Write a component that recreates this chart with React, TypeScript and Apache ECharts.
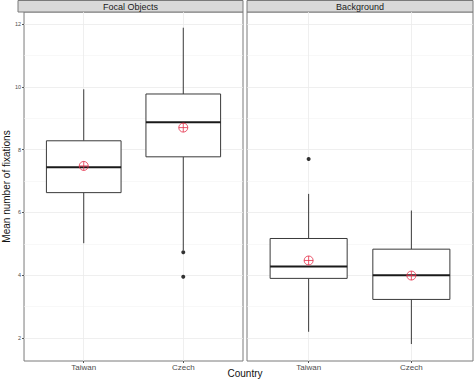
import React, { useEffect, useRef } from "react";
import * as echarts from "echarts";

const categories = ["Taiwan", "Czech"];
const panels = ["Focal Objects", "Background"];
// [min, Q1, median, Q3, max]
const focalStats = [
  [5.02, 6.63, 7.44, 8.28, 9.92],
  [4.8, 7.77, 8.87, 9.77, 11.88],
];
const backgroundStats = [
  [2.2, 3.9, 4.28, 5.17, 6.59],
  [1.81, 3.23, 4.0, 4.83, 6.06],
];
const focalMeans = [7.48, 8.7];
const backgroundMeans = [4.47, 3.99];
const focalOutlierCategory = ["Czech", "Czech"];
const focalOutlierValues = [4.73, 3.95];
const backgroundOutlierCategory = ["Taiwan"];
const backgroundOutlierValues = [7.7];
const yTicks = [2, 4, 6, 8, 10, 12];
const yMinorTicks = [3, 5, 7, 9, 11];
const xTicks = [1, 2];

const FONT = "Liberation Sans, Arial, sans-serif";
const Y_MIN = 1.27;
const Y_MAX = 12.38;

const MEAN_SYMBOL =
  "path://M10,0A10,10,0,1,1,10,20A10,10,0,1,1,10,0ZM0,10L20,10M10,0L10,20";

function renderBox(params: any, api: any) {
  const x = api.value(0);
  const mn = api.value(1);
  const q1 = api.value(2);
  const md = api.value(3);
  const q3 = api.value(4);
  const mx = api.value(5);
  const halfW = api.size([1, 0])[0] * 0.375;
  const pMin = api.coord([x, mn]);
  const pQ1 = api.coord([x, q1]);
  const pMd = api.coord([x, md]);
  const pQ3 = api.coord([x, q3]);
  const pMax = api.coord([x, mx]);
  const stroke = { stroke: "#3a3a3a", lineWidth: 1, fill: "none" };
  return {
    type: "group",
    children: [
      { type: "line", shape: { x1: pQ3[0], y1: pQ3[1], x2: pMax[0], y2: pMax[1] }, style: stroke },
      { type: "line", shape: { x1: pQ1[0], y1: pQ1[1], x2: pMin[0], y2: pMin[1] }, style: stroke },
      {
        type: "rect",
        shape: { x: pQ3[0] - halfW, y: pQ3[1], width: halfW * 2, height: pQ1[1] - pQ3[1] },
        style: { stroke: "#3a3a3a", lineWidth: 1, fill: "#ffffff" },
      },
      {
        type: "line",
        shape: { x1: pMd[0] - halfW, y1: pMd[1], x2: pMd[0] + halfW, y2: pMd[1] },
        style: { stroke: "#1a1a1a", lineWidth: 2, fill: "none" },
      },
    ],
  };
}

function boxData(stats: number[][]) {
  return stats.map((s, i) => [i + 1, ...s]);
}
function meanData(means: number[]) {
  return means.map((m, i) => [i + 1, m]);
}
function outlierData(cats: string[], vals: number[]) {
  return cats.map((c, i) => [categories.indexOf(c) + 1, vals[i]]);
}

export default function App() {
  const ref = useRef<HTMLDivElement>(null);
  useEffect(() => {
    if (!ref.current) return;
    const chart = echarts.init(ref.current, null, { renderer: "svg" });
    const grids = [
      { left: 18, top: 12, width: 225, height: 349 },
      { left: 247, top: 12, width: 226, height: 349 },
    ];
    const xAxes = grids.map((_, gi) => ({
      type: "value",
      gridIndex: gi,
      min: 0.4,
      max: 2.6,
      axisLine: { show: false },
      axisTick: { show: true, length: 2, customValues: xTicks, lineStyle: { color: "#555" } },
      axisLabel: {
        show: true,
        customValues: xTicks,
        formatter: (v: number) => categories[Math.round(v) - 1] || "",
        fontSize: 8,
        color: "#4d4d4d",
        fontFamily: FONT,
        margin: 2,
      },
      splitLine: { show: true, lineStyle: { color: "#ebebeb", width: 0.8 } },
    }));
    const yAxes: any[] = [];
    grids.forEach((_, gi) => {
      yAxes.push({
        type: "value",
        gridIndex: gi,
        min: Y_MIN,
        max: Y_MAX,
        position: "left",
        axisLine: { show: false },
        axisTick: { show: gi === 0, length: 2, customValues: yTicks, lineStyle: { color: "#555" } },
        axisLabel: {
          show: gi === 0,
          customValues: yTicks,
          fontSize: 5.5,
          color: "#4d4d4d",
          fontFamily: FONT,
          margin: 3,
        },
        splitLine: { show: true, lineStyle: { color: "#ebebeb", width: 0.8 } },
        name: gi === 0 ? "Mean number of fixations" : "",
        nameLocation: "middle",
        nameGap: 8,
        nameTextStyle: { fontSize: 10, color: "#111", fontFamily: FONT },
      });
      yAxes.push({
        type: "value",
        gridIndex: gi,
        min: Y_MIN,
        max: Y_MAX,
        position: "left",
        axisLine: { show: false },
        axisTick: { show: false, customValues: yMinorTicks },
        axisLabel: { show: false, customValues: yMinorTicks },
        splitLine: { show: true, lineStyle: { color: "#f4f4f4", width: 0.6 } },
      });
    });
    const statsList = [focalStats, backgroundStats];
    const meansList = [focalMeans, backgroundMeans];
    const outList = [
      outlierData(focalOutlierCategory, focalOutlierValues),
      outlierData(backgroundOutlierCategory, backgroundOutlierValues),
    ];
    const series: any[] = [];
    grids.forEach((_, gi) => {
      series.push({
        type: "custom",
        name: panels[gi],
        xAxisIndex: gi,
        yAxisIndex: gi * 2,
        renderItem: renderBox,
        encode: { x: 0, y: [1, 2, 3, 4, 5] },
        data: boxData(statsList[gi]),
        z: 2,
      });
      series.push({
        type: "scatter",
        name: panels[gi] + " outliers",
        xAxisIndex: gi,
        yAxisIndex: gi * 2,
        symbol: "circle",
        symbolSize: 4,
        itemStyle: { color: "#000" },
        data: outList[gi],
        z: 3,
      });
      series.push({
        type: "scatter",
        name: panels[gi] + " mean",
        xAxisIndex: gi,
        yAxisIndex: gi * 2,
        symbol: MEAN_SYMBOL,
        symbolSize: 9,
        itemStyle: { color: "rgba(0,0,0,0)", borderColor: "#e5304a", borderWidth: 1 },
        data: meanData(meansList[gi]),
        z: 4,
      });
    });
    const graphic: any[] = [];
    grids.forEach((g, gi) => {
      graphic.push({
        type: "rect",
        shape: { x: g.left, y: 0.5, width: g.width, height: g.top - 0.5 },
        style: { fill: "#d9d9d9", stroke: "#7a7a7a", lineWidth: 1 },
        silent: true,
      });
      graphic.push({
        type: "text",
        x: g.left + g.width / 2,
        y: g.top / 2 + 0.5,
        style: {
          text: panels[gi],
          fontSize: 9,
          fontFamily: FONT,
          fill: "#1a1a1a",
          align: "center",
          verticalAlign: "middle",
        },
        silent: true,
      });
    });
    graphic.push({
      type: "text",
      x: 245,
      y: 373,
      style: {
        text: "Country",
        fontSize: 10,
        fontFamily: FONT,
        fill: "#111",
        align: "center",
        verticalAlign: "middle",
      },
    });
    chart.setOption({
      animation: false,
      backgroundColor: "#ffffff",
      grid: grids.map((g) => ({
        ...g,
        show: true,
        borderColor: "#7a7a7a",
        borderWidth: 1,
        backgroundColor: "transparent",
      })),
      xAxis: xAxes,
      yAxis: yAxes,
      series,
      graphic,
    });
    return () => chart.dispose();
  }, []);
  return (
    <div
      ref={ref}
      style={{ position: "fixed", left: 0, top: 0, width: 474, height: 379, background: "#fff" }}
    />
  );
}
